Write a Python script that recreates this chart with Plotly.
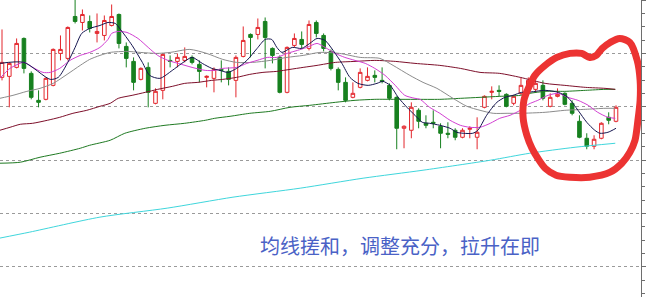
import plotly.graph_objects as go

# ---------------- data ----------------
open_ = [22.3, 22.4, 23.3, 26.2, 22.7, 20.0, 20.1, 21.5, 24.7, 24.2,
         28.4, 27.8, 27.9, 26.7, 26.5, 27.5, 28.6, 25.4, 23.9, 22.1,
         23.3, 19.7, 21.0, 24.0, 23.9, 24.0, 24.3, 23.6, 22.3, 22.2,
         23.1, 22.9, 22.0, 24.4, 26.6, 26.6, 27.9, 25.2, 24.3, 20.8,
         25.5, 26.1, 25.2, 27.8, 26.5, 24.9, 23.1, 21.8, 20.3, 21.3,
         22.0, 22.5, 22.0, 21.5, 20.3, 17.2, 17.0, 19.0, 17.7, 17.8,
         17.4, 16.7, 17.0, 16.3, 17.1, 16.3, 19.3, 20.8, 21.0, 20.6,
         19.7, 20.7, 21.2, 21.1, 21.5, 19.4, 20.4, 20.7, 19.7, 17.9,
         16.2, 15.4, 16.2, 18.3, 17.9]
close = [23.8, 23.7, 25.7, 23.2, 20.3, 19.8, 22.2, 25.1, 25.1, 27.3,
         27.9, 28.6, 27.2, 26.9, 28.0, 28.4, 25.7, 24.2, 21.8, 23.2,
         20.8, 20.9, 24.6, 23.9, 24.3, 24.4, 23.8, 22.9, 22.4, 23.1,
         23.0, 22.1, 24.3, 26.0, 26.3, 27.3, 26.3, 24.5, 20.8, 25.3,
         26.2, 25.6, 27.6, 26.7, 25.2, 23.2, 21.8, 20.0, 20.7, 22.8,
         22.4, 22.3, 21.9, 20.2, 17.2, 17.4, 19.3, 17.9, 17.5, 17.7,
         16.7, 16.6, 16.3, 17.0, 17.2, 16.8, 20.4, 20.9, 20.9, 19.4,
         20.4, 21.5, 22.0, 21.7, 20.2, 20.3, 20.6, 19.6, 18.7, 16.3,
         15.4, 16.1, 17.7, 18.0, 19.3]
high = [27.1, 23.8, 26.2, 26.3, 22.9, 21.0, 22.3, 25.2, 26.5, 27.4,
        30.2, 29.1, 28.5, 28.7, 28.5, 29.6, 28.7, 25.8, 24.3, 23.3,
        23.8, 21.2, 24.7, 24.5, 24.7, 25.3, 24.5, 24.0, 22.5, 23.3,
        24.0, 23.3, 24.5, 27.4, 26.7, 28.2, 28.3, 25.3, 24.5, 25.4,
        26.7, 26.9, 28.0, 28.0, 26.7, 25.1, 23.3, 22.3, 21.8, 23.2,
        23.3, 23.0, 23.3, 21.7, 20.4, 17.5, 19.8, 19.2, 18.5, 19.0,
        17.7, 17.8, 17.2, 17.2, 17.4, 18.3, 20.5, 21.4, 21.5, 20.7,
        20.5, 22.3, 22.3, 22.1, 22.0, 20.7, 21.2, 20.8, 20.0, 18.5,
        16.7, 16.5, 17.8, 18.8, 19.5]
low = [22.0, 19.3, 23.2, 22.7, 20.1, 19.3, 20.0, 21.4, 24.0, 24.0,
       27.7, 27.0, 26.8, 25.8, 26.0, 27.4, 25.2, 23.3, 21.0, 22.0,
       19.3, 19.6, 20.1, 23.3, 23.3, 23.8, 23.6, 21.8, 21.3, 20.8,
       21.8, 21.5, 20.3, 24.3, 24.3, 26.1, 23.2, 23.7, 20.7, 20.7,
       25.3, 25.2, 25.0, 26.3, 24.9, 23.0, 21.0, 19.8, 20.2, 21.2,
       21.9, 21.8, 21.7, 20.0, 15.1, 15.2, 16.2, 17.2, 17.2, 17.2,
       15.2, 16.2, 16.0, 16.2, 16.2, 15.1, 19.2, 20.1, 20.4, 19.3,
       19.5, 20.5, 20.8, 20.8, 20.0, 19.3, 20.3, 19.5, 18.5, 16.2,
       15.1, 15.1, 16.1, 17.6, 17.8]
days = list(range(len(open_)))

ma5_x = [-0.3, 3.0, 6.6, 7.7, 9.0, 10.0, 10.9, 12.0, 13.4, 14.5, 15.5, 16.1, 17.8, 19.2, 20.2, 21.6,
         23.3, 24.6, 26.0, 27.4, 28.7, 29.8, 30.9, 32.1, 33.5, 34.9, 36.0, 36.9, 37.6, 38.3, 39.7,
         41.0, 42.1, 43.1, 44.2, 45.3, 46.5, 47.6, 48.7, 50.1, 51.3, 52.1, 53.1, 54.2, 55.4, 56.5,
         57.5, 58.5, 59.9, 61.3, 62.2, 63.1, 64.4, 65.1, 66.3, 67.7, 68.8, 69.9, 71.1, 71.9, 74.3,
         76.1, 77.4, 78.8, 80.0, 81.1, 81.8, 82.9, 84.0]
ma5_y = [23.7, 23.8, 22.1, 22.3, 23.8, 25.3, 26.7, 27.2, 27.5, 27.8, 27.7, 27.2, 25.5, 23.8, 22.5, 22.2,
         23.0, 23.7, 24.3, 23.7, 23.2, 23.0, 22.8, 23.2, 24.0, 25.2, 26.1, 26.1, 25.3, 24.8, 25.3,
         25.2, 25.7, 26.2, 26.0, 25.0, 23.7, 22.3, 21.7, 21.5, 21.7, 21.9, 21.5, 20.3, 19.3, 18.5,
         17.8, 17.7, 17.5, 17.2, 16.8, 16.7, 16.7, 17.0, 18.5, 19.8, 20.3, 20.5, 20.8, 20.8, 21.0,
         20.8, 20.3, 19.0, 17.8, 17.0, 16.7, 16.8, 17.2]

ma10_x = [-0.3, 1.1, 3.0, 4.2, 5.6, 6.6, 7.9, 9.3, 10.7, 12.0, 13.4, 14.5, 15.0, 15.9, 17.1, 18.6,
          20.0, 21.3, 22.7, 24.1, 26.0, 27.8, 29.1, 30.2, 32.1, 33.5, 34.9, 36.3, 37.6, 39.0, 40.4,
          41.7, 43.1, 44.2, 45.6, 46.9, 48.3, 49.7, 51.0, 52.4, 53.8, 55.1, 56.5, 57.2, 58.5, 59.9,
          61.3, 62.7, 64.0, 65.4, 66.8, 68.1, 69.5, 70.9, 72.0, 73.3, 74.7, 76.1, 77.4, 78.8, 80.2,
          81.5, 82.9, 83.9]
ma10_y = [22.2, 23.2, 23.8, 23.3, 22.8, 22.8, 23.2, 24.0, 24.5, 24.8, 25.3, 26.1, 26.7, 26.9, 26.8, 26.2,
          25.3, 24.5, 24.0, 23.7, 23.3, 23.0, 23.0, 23.2, 23.3, 23.7, 24.0, 24.3, 24.3, 24.7, 25.0,
          25.3, 25.7, 25.3, 24.7, 24.3, 24.0, 23.7, 23.2, 22.5, 21.5, 20.5, 20.2, 20.1, 19.3, 18.7,
          18.0, 17.5, 17.3, 17.3, 17.7, 18.2, 18.5, 19.0, 19.6, 20.0, 20.5, 20.7, 20.3, 20.0, 19.5,
          18.8, 18.3, 18.2]

ma20_x = [-0.3, 1.5, 3.4, 5.2, 7.0, 8.9, 10.7, 12.0, 13.4, 14.8, 17.1, 18.9, 21.2, 23.0, 25.7, 28.0,
          30.2, 32.1, 34.3, 36.7, 39.0, 41.2, 43.5, 46.2, 49.0, 51.7, 53.5, 55.8, 57.6, 59.5, 61.7,
          63.6, 65.4, 67.2, 69.1, 70.9, 74.3, 77.0, 79.8, 82.5, 83.9]
ma20_y = [20.2, 20.5, 20.9, 21.2, 21.7, 22.6, 23.5, 24.1, 24.5, 24.8, 24.9, 24.8, 24.7, 24.8, 25.1, 24.7,
          24.1, 23.8, 23.8, 24.0, 24.3, 24.5, 24.8, 24.7, 24.3, 24.2, 23.5, 22.5, 21.8, 21.2, 20.2,
          19.4, 19.0, 18.7, 18.7, 18.7, 18.8, 19.0, 19.1, 19.2, 19.2]

ma60_x = [-0.3, 1.1, 2.5, 4.2, 6.2, 7.9, 9.7, 11.6, 13.4, 14.8, 15.9, 17.8, 19.6, 21.3, 23.3, 25.0,
          26.8, 28.7, 30.2, 32.1, 33.9, 35.7, 37.6, 39.4, 41.2, 43.1, 45.6, 48.3, 51.0, 53.8, 56.5,
          59.9, 62.7, 65.4, 68.1, 70.9, 74.3, 77.0, 79.8, 82.5, 83.9]
ma60_y = [17.0, 17.3, 17.6, 17.7, 18.0, 18.3, 18.7, 19.0, 19.4, 19.7, 20.2, 20.5, 20.8, 21.1, 21.4, 21.7,
          21.8, 22.0, 22.1, 22.3, 22.6, 22.8, 22.9, 23.1, 23.3, 23.5, 23.8, 23.9, 24.0, 23.9, 23.7,
          23.5, 23.2, 22.8, 22.7, 22.3, 21.7, 21.5, 21.3, 21.2, 21.1]

ma120_x = [-0.3, 2.5, 5.2, 7.9, 10.7, 12.0, 14.8, 16.8, 19.6, 22.3, 25.0, 27.8, 29.1, 31.2, 33.9, 36.7,
           39.4, 42.1, 45.6, 48.3, 51.0, 53.8, 56.5, 59.9, 62.7, 65.4, 68.1, 70.9, 72.2, 74.3, 77.0,
           79.8, 82.5, 83.9]
ma120_y = [13.7, 13.8, 14.3, 14.7, 15.2, 15.5, 16.0, 16.7, 17.2, 17.5, 17.7, 18.0, 18.2, 18.4, 18.7, 18.9,
           19.3, 19.5, 19.8, 20.0, 20.1, 20.1, 20.1, 20.1, 20.2, 20.3, 20.4, 20.5, 20.7, 20.9, 20.9,
           21.0, 21.1, 21.1]

ma250_x = [-0.3, 3.8, 13.4, 22.6, 31.6, 40.8, 49.4, 57.6, 66.8, 72.2, 78.4, 83.9]
ma250_y = [6.2, 6.8, 8.3, 9.2, 10.3, 11.2, 12.2, 13.0, 14.0, 14.7, 15.3, 15.7]

circle_x = [84.5, 85.9, 86.9, 87.3, 87.3, 87.0, 86.6, 85.9, 84.8, 83.2, 80.4, 77.7, 75.8, 74.3, 73.3,
            72.5, 71.8, 71.3, 71.4, 72.0, 72.9, 74.3, 75.9, 77.7, 79.3, 80.4, 81.3, 82.1, 83.2, 84.5]
circle_y = [26.2, 25.8, 24.0, 22.0, 20.0, 18.0, 16.0, 14.8, 13.7, 12.8, 12.3, 12.3, 12.5, 13.2, 14.2,
            15.2, 16.5, 18.2, 20.0, 21.2, 22.5, 23.5, 24.3, 24.7, 24.7, 24.3, 24.5, 25.2, 25.8, 26.2]

note_text = "均线搓和，调整充分，拉升在即"

# ---------------- styles ----------------
RED = "#e3262c"
GREEN = "#17801f"

fig = go.Figure()
fig.add_trace(go.Candlestick(
    x=days, open=open_, high=high, low=low, close=close,
    increasing=dict(line=dict(color=RED, width=1), fillcolor="white"),
    decreasing=dict(line=dict(color=GREEN, width=1), fillcolor=GREEN),
    whiskerwidth=0, hoverinfo="skip", showlegend=False))

ma_specs = [
    (ma250_x, ma250_y, "#3fd6dc"),
    (ma120_x, ma120_y, "#1f7a22"),
    (ma60_x, ma60_y, "#7d0f2a"),
    (ma20_x, ma20_y, "#8c8c8c"),
    (ma10_x, ma10_y, "#d23fd2"),
    (ma5_x, ma5_y, "#15154f"),
]
for xs, ys, col in ma_specs:
    fig.add_trace(go.Scatter(x=xs, y=ys, mode="lines",
                             line=dict(color=col, width=1, shape="spline", smoothing=0.7),
                             hoverinfo="skip", showlegend=False))

fig.add_trace(go.Scatter(x=circle_x, y=circle_y, mode="lines",
                         line=dict(color="#ec3332", width=7, shape="spline", smoothing=0.8),
                         hoverinfo="skip", showlegend=False))

fig.add_annotation(x=54.4, y=5.5, xref="x", yref="y", text=note_text, showarrow=False,
                   font=dict(family="Noto Sans CJK SC", size=20, color="#4a62c6"))

fig.update_layout(
    width=646, height=297,
    margin=dict(l=0, r=5, t=0, b=0),
    paper_bgcolor="white", plot_bgcolor="white",
    showlegend=False,
    xaxis=dict(range=[-0.274, 87.42], visible=False, rangeslider=dict(visible=False)),
    yaxis=dict(side="right", range=[0.3, 30.05], tick0=3.32, dtick=5.34,
               showgrid=True, gridcolor="#9a9a9a", griddash="dot", gridwidth=1,
               showline=True, linecolor="#6e6e6e", linewidth=1,
               ticks="outside", ticklen=5, tickcolor="#6e6e6e",
               showticklabels=False, zeroline=False,
               minor=dict(tick0=3.32, dtick=1.335, ticks="outside", ticklen=3,
                          tickcolor="#6e6e6e", showgrid=False)),
)

fig.write_html("out.html")
